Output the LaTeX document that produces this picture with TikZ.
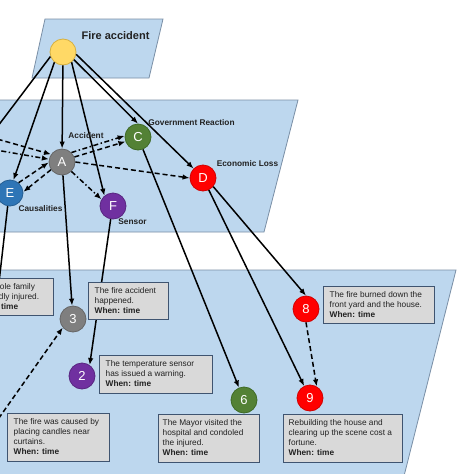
\documentclass[tikz,border=0pt]{standalone}
\usepackage{fontspec}
\setmainfont{Liberation Sans}
\usetikzlibrary{arrows.meta}
\definecolor{layerfill}{HTML}{BDD7EE}
\definecolor{layerdraw}{HTML}{7A8FA6}
\definecolor{boxfill}{HTML}{D9D9D9}
\definecolor{boxdraw}{HTML}{3F5470}
\definecolor{cyellow}{HTML}{FFD966}
\definecolor{cyellowd}{HTML}{D6B040}
\definecolor{cgray}{HTML}{7F7F7F}
\definecolor{cgrayd}{HTML}{666666}
\definecolor{cgreen}{HTML}{538135}
\definecolor{cgreend}{HTML}{3E6A25}
\definecolor{cred}{HTML}{FF0000}
\definecolor{credd}{HTML}{D00000}
\definecolor{cblue}{HTML}{2E75B6}
\definecolor{cblued}{HTML}{245E93}
\definecolor{cpurple}{HTML}{7030A0}
\definecolor{cpurpled}{HTML}{582680}
\definecolor{txt}{HTML}{222222}
\tikzset{
  layer/.style={fill=layerfill, draw=layerdraw, line width=0.8pt},
  circ/.style={circle, minimum size=26pt, inner sep=0pt, line width=0.8pt, text=white, font=\fontsize{13}{13}\selectfont},
  conn/.style={-{Latex[length=7pt,width=5.5pt]}, line width=1.5pt, black},
  plainconn/.style={line width=1.5pt, black},
  dsh/.style={conn, dash pattern=on 5pt off 3pt},
  dshdot/.style={conn, dash pattern=on 5pt off 2.5pt on 1.5pt off 2.5pt},
  tbox/.style={draw=boxdraw, fill=boxfill, line width=1pt, inner sep=0pt},
  btext/.style={anchor=west, align=left, inner sep=0pt, text=txt, font=\fontsize{8.3}{10}\selectfont},
  lbl/.style={inner sep=0pt, text=txt, font=\bfseries\fontsize{8.3}{10}\selectfont}
}
\begin{document}
\begin{tikzpicture}[x=1pt,y=-1pt]
\useasboundingbox (0,0) rectangle (474,474);
\clip (0,0) rectangle (474,474);
% layers
\fill[white] (0,0) rectangle (474,474);
\draw[layer] (45,19) -- (163,19) -- (149,78) -- (32,78) -- cycle;
\draw[layer] (-80,100) -- (298,100) -- (264,232) -- (-110,232) -- cycle;
\draw[layer] (-80,270) -- (456,270) -- (403,480) -- (-110,480) -- cycle;
% circles
\node[circ, fill=cyellow, draw=cyellowd] (Y) at (63,52) {};
\node[circ, fill=cgray, draw=cgrayd] (A) at (62,162) {A};
\node[circ, fill=cgreen, draw=cgreend] (C) at (138,137) {C};
\node[circ, fill=cred, draw=credd] (D) at (203,178) {D};
\node[circ, fill=cblue, draw=cblued] (E) at (10,193) {E};
\node[circ, fill=cpurple, draw=cpurpled] (F) at (113,206) {F};
\node[circ, fill=cgray, draw=cgrayd] (n3) at (73,319) {3};
\node[circ, fill=cpurple, draw=cpurpled] (n2) at (82,376) {2};
\node[circ, fill=cgreen, draw=cgreend] (n6) at (244,400) {6};
\node[circ, fill=cred, draw=credd] (n8) at (306,309) {8};
\node[circ, fill=cred, draw=credd] (n9) at (310,398) {9};
% free ends
\coordinate (offY) at (-30,163);
\coordinate (offE) at (-3,300);
\coordinate (offL1) at (-10,137);
\coordinate (offL2) at (-10,149);
\coordinate (offB) at (-6,425);
% solid connectors
\draw[plainconn] (Y.-160) -- (offY);
\draw[conn] (Y.-130) -- (E.75);
\draw[conn] (Y) -- (A);
\draw[conn] (Y.-50) -- (F.130);
\draw[conn] (Y.-35) -- (C.north);
\draw[conn] (Y.-10) -- (D.135);
\draw[plainconn] (E.-100) -- (offE);
\draw[conn] (A) -- (n3);
\draw[conn] (F.-100) -- (n2.55);
\draw[conn] (C) -- (n6);
\draw[conn] (D) -- (n9);
\draw[conn] (D.-40) -- (n8.north);
% dashed connectors
\draw[dsh] (offL1) -- (A.145);
\draw[dshdot] (offL2) -- (A.168);
\draw[dshdot] (A.45) -- (C.175);
\draw[dsh] (A.22) -- (C.200);
\draw[dsh] (A.0) -- (D.180);
\draw[dsh] (E.50) -- (A.182);
\draw[dsh] (A.215) -- (E.5);
\draw[dshdot] (A.-45) -- (F.150);
\draw[dsh] (n8.south) -- (n9.60);
\draw[dsh] (offB) -- (n3.220);
% labels
\node[inner sep=0pt, text=txt, font=\bfseries\fontsize{11}{13}\selectfont] (lfire) at (115.5,36) {Fire accident};
\node[lbl] (lgov) at (191.5,123) {Government Reaction};
\node[lbl] (lacc) at (86,136) {Accident};
\node[lbl] (leco) at (247.5,164) {Economic Loss};
\node[lbl] (lcau) at (40.5,209) {Causalities};
\node[lbl] (lsen) at (132.5,222) {Sensor};
% text boxes
\node[tbox, minimum width=87pt, minimum height=37pt] (b1) at (9.5,296.5) {};
\node[btext] (t1) at ([xshift=7pt]b1.west) {The whole family\\was badly injured.\\\textbf{When: time}};
\node[tbox, minimum width=80pt, minimum height=37pt] (b2) at (128,300.5) {};
\node[btext] (t2) at ([xshift=7pt]b2.west) {The fire accident\\happened.\\\textbf{When: time}};
\node[tbox, minimum width=113pt, minimum height=38pt] (b3) at (155.5,374) {};
\node[btext] (t3) at ([xshift=7pt]b3.west) {The temperature sensor\\has issued a warning.\\\textbf{When: time}};
\node[tbox, minimum width=102pt, minimum height=48pt] (b4) at (58,437) {};
\node[btext] (t4) at ([xshift=7pt]b4.west) {The fire was caused by\\placing candles near\\curtains.\\\textbf{When: time}};
\node[tbox, minimum width=101pt, minimum height=48pt] (b5) at (208.5,438) {};
\node[btext] (t5) at ([xshift=5pt]b5.west) {The Mayor visited the\\hospital and condoled\\the injured.\\\textbf{When: time}};
\node[tbox, minimum width=119pt, minimum height=48pt] (b6) at (342.5,438) {};
\node[btext] (t6) at ([xshift=6pt]b6.west) {Rebuilding the house and\\clearing up the scene cost a\\fortune.\\\textbf{When: time}};
\node[tbox, minimum width=111pt, minimum height=37pt] (b7) at (378.5,304.5) {};
\node[btext] (t7) at ([xshift=7pt]b7.west) {The fire burned down the\\front yard and the house.\\\textbf{When: time}};
\end{tikzpicture}
\end{document}
